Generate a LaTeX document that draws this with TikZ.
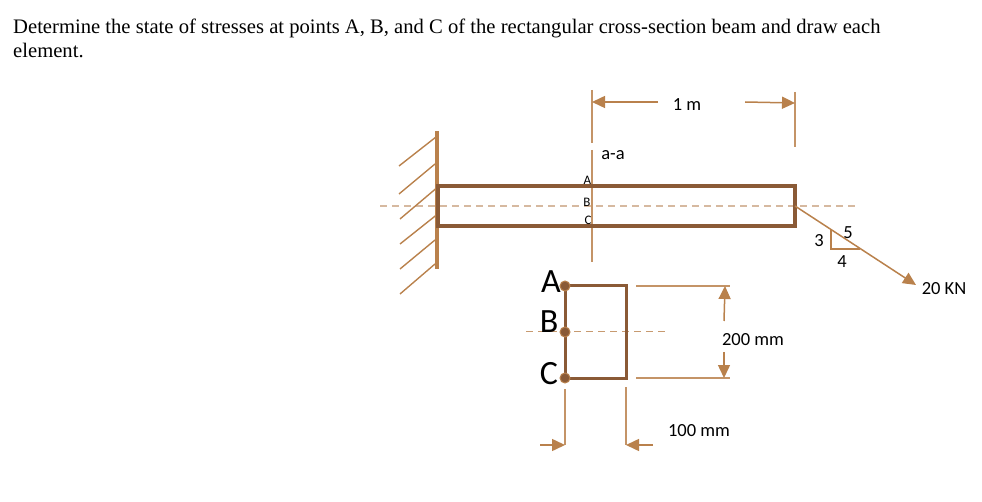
\documentclass[tikz,border=0pt]{standalone}
\usepackage{fontspec}
\setmainfont{Liberation Serif}
\newfontfamily\calibri{Carlito}
\usetikzlibrary{arrows.meta}
\definecolor{beamcol}{HTML}{8A5A36}
\definecolor{linecol}{HTML}{B9814C}
\definecolor{dashcol}{HTML}{D6B9A0}
\tikzset{
  dimline/.style={linecol!85!white, line width=1.5pt},
  dimarrow/.style={linecol, line width=1.5pt, -{Triangle[length=13pt,width=12pt]}},
  hatchline/.style={linecol, line width=1.4pt},
  axisline/.style={dashcol, line width=1.5pt, dash pattern=on 7pt off 5pt},
  label/.style={font=\calibri\fontsize{18.5}{20}\selectfont, inner sep=0pt},
  biglabel/.style={font=\calibri\fontsize{34}{36}\selectfont, inner sep=0pt},
  smalllabel/.style={font=\calibri\fontsize{13}{15}\selectfont, inner sep=0pt},
  dot/.style={circle, fill=beamcol, draw=linecol, line width=1pt, minimum size=10pt, inner sep=0pt}
}
\begin{document}
\begin{tikzpicture}[x=1pt, y=-1pt]
    \useasboundingbox (0,0) rectangle (982,502);

    % Problem text
    \node[anchor=north west, align=left, inner sep=0pt, font=\fontsize{20.63}{24}\selectfont] (problem) at (13,19)
        {Determine the state of stresses at points A, B, and C of the rectangular cross-section beam and draw each\\element.};

    % Centre line of the beam
    \coordinate (axisL) at (380,206);
    \coordinate (axisR) at (858,206);
    \draw[axisline] (axisL) -- (axisR);

    % Wall hatching
    \foreach \xa/\ya/\xb/\yb/\n in {399/166/436/137/1, 399/194/435/164/2, 400/219/439/186/3,
                                    400/244/439/213/4, 400/269/435/240/5, 400/294/435/264/6} {
        \coordinate (hatchS\n) at (\xa,\ya);
        \coordinate (hatchE\n) at (\xb,\yb);
        \draw[hatchline] (hatchS\n) -- (hatchE\n);
    }

    % Wall
    \coordinate (wallT) at (437,131);
    \coordinate (wallB) at (437,269);
    \draw[linecol, line width=4pt] (wallT) -- (wallB);

    % Section line and span limits
    \coordinate (cutTa) at (592,90);
    \coordinate (cutTb) at (592,143);
    \coordinate (cutMa) at (592,150);
    \coordinate (cutMb) at (592,262);
    \coordinate (spanT) at (795,92);
    \coordinate (spanB) at (795,147);
    \draw[dimline] (cutTa) -- (cutTb);
    \draw[dimline] (cutMa) -- (cutMb);
    \draw[dimline] (spanT) -- (spanB);

    % Beam
    \node[draw=beamcol, line width=4pt, minimum width=357pt, minimum height=40pt, inner sep=0pt, outer sep=0pt] (beam) at (616.5,206) {};

    % Span dimension
    \node[label] (spanlabel) at (687,105) {1 m};
    \coordinate (spanLs) at (658,102);
    \coordinate (spanLe) at (592,102);
    \coordinate (spanRs) at (745,102);
    \coordinate (spanRe) at (795,103);
    \draw[dimarrow] (spanLs) -- (spanLe);
    \draw[dimarrow] (spanRs) -- (spanRe);
    \node[label] (cutlabel) at (613,155) {a-a};

    % Points on the beam
    \node[smalllabel] (pA) at (587.5,180) {A};
    \node[smalllabel] (pB) at (587,202) {B};
    \node[smalllabel] (pC) at (588,220) {C};

    % Load and slope triangle
    \coordinate (loadS) at (795,206);
    \coordinate (loadE) at (916,285);
    \draw[dimarrow] (loadS) -- (loadE);
    \coordinate (triT) at (831,230);
    \coordinate (triC) at (831,249);
    \coordinate (triR) at (860,249);
    \draw[hatchline] (triT) -- (triC) -- (triR);
    \node[label] (three) at (819,241) {3};
    \node[label] (five) at (848,233) {5};
    \node[label] (four) at (842,262) {4};
    \node[label] (loadlabel) at (944,289) {20 KN};

    % Cross-section
    \coordinate (secL) at (526,332);
    \coordinate (secR) at (665,332);
    \draw[linecol!80!white, line width=1pt, dash pattern=on 7pt off 5pt] (secL) -- (secR);
    \coordinate (secTL) at (565,286);
    \coordinate (secBL) at (565,378);
    \coordinate (secTR) at (626,286);
    \coordinate (secBR) at (626,378);
    \draw[beamcol, line width=3pt] (secTL) -- (secTR) -- (secBR) -- (secBL) -- cycle;
    \node[dot] (dotA) at (secTL) {};
    \node[dot] (dotB) at (565,332) {};
    \node[dot] (dotC) at (secBL) {};
    \node[biglabel] (bigA) at (551,282) {A};
    \node[biglabel] (bigB) at (549,322) {B};
    \node[biglabel] (bigC) at (549,374) {C};

    % Height dimension
    \coordinate (hTs) at (636,286);
    \coordinate (hTe) at (730,286);
    \coordinate (hBs) at (636,378);
    \coordinate (hBe) at (730,378);
    \draw[dimline] (hTs) -- (hTe);
    \draw[dimline] (hBs) -- (hBe);
    \node[label] (heightlabel) at (753,340) {200 mm};
    \coordinate (hUs) at (724,321);
    \coordinate (hUe) at (725,286);
    \coordinate (hDs) at (724,352);
    \coordinate (hDe) at (724,378);
    \draw[dimarrow] (hUs) -- (hUe);
    \draw[dimarrow] (hDs) -- (hDe);

    % Width dimension
    \coordinate (wLt) at (565,389);
    \coordinate (wLb) at (565,445);
    \coordinate (wRt) at (626,387);
    \coordinate (wRb) at (626,445);
    \draw[dimline] (wLt) -- (wLb);
    \draw[dimline] (wRt) -- (wRb);
    \node[label] (widthlabel) at (699,431) {100 mm};
    \coordinate (wLs) at (540,445);
    \coordinate (wRs) at (653,445);
    \draw[dimarrow] (wLs) -- (wLb);
    \draw[dimarrow] (wRs) -- (wRb);
\end{tikzpicture}
\end{document}
